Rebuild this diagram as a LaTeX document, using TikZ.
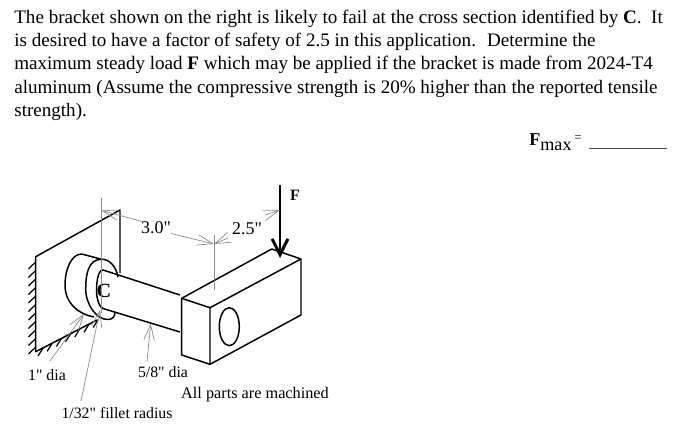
\documentclass[tikz,border=0pt]{standalone}
\usepackage{fontspec}
\setmainfont[Ligatures=TeXOff]{Liberation Serif}
\usetikzlibrary{arrows.meta}
\definecolor{DimGray}{HTML}{8C8C8C}
\tikzset{
	part/.style={draw=black, line width=0.85pt, line join=round},
	dim/.style={draw=DimGray, line width=0.4pt},
	dimtip/.style={dim, -{Straight Barb[length=9pt,width=6pt,line width=0.4pt]}},
	dimlabel/.style={font=\fontsize{9}{11}\selectfont, inner sep=0pt},
	cotelabel/.style={font=\fontsize{10.2}{12}\selectfont, inner sep=0pt},
	hatch/.style={draw=black, line width=0.7pt}
}
\begin{document}
\begin{tikzpicture}[x=0.02cm, y=-0.02cm]
	\useasboundingbox (0,0) rectangle (700,446);
	% Enonce
	\node[anchor=north west, align=left, inner sep=0pt, font=\fontsize{10.85}{13.25}\selectfont] (enonce) at (14,9.5) {The bracket shown on the right is likely to fail at the cross section identified by \textbf{C}.~ It\\is desired to have a factor of safety of 2.5 in this application.~ Determine the\\maximum steady load \textbf{F} which may be applied if the bracket is made from 2024-T4\\aluminum (Assume the compressive strength is 20\% higher than the reported tensile\\strength).};
	\node[anchor=base west, inner sep=0pt, font=\fontsize{10.3}{12}\selectfont] (fmax) at (529,146) {\textbf{F}\raisebox{-2.5pt}{max}\,\raisebox{2.5pt}{\fontsize{7}{8}\selectfont =}};
	\coordinate (trait1) at (589,148);
	\coordinate (trait2) at (667,148);
	\draw[line width=0.5pt, draw=black!70] (trait1) -- (trait2);

	% Plaque et hachures
	\draw[part] (120,273) -- (120,210) -- (35.7,256.7) -- (35.7,351.7) -- (97,320);
	\foreach \y in {262,270.5,...,352}
		\draw[hatch] (35.7,\y) -- (28.5,\y+7);
	\foreach \i in {0,...,6}
		\draw[hatch] (43+\i*9.2,348-\i*4.75) -- ++(-5,8);

	% Moyeu et arbre
	\draw[part] (101.7,259.3) -- (81.7,254) .. controls (71,254) and (65,270) .. (65,285) .. controls (65,303) and (78,314) .. (94,317);
	\draw[part] (101.7,259.3) .. controls (88,259) and (85.7,275) .. (85.7,289) .. controls (85.7,305) and (97,320) .. (108,319.5) .. controls (113,319.5) and (115,316) .. (115,312);
	\draw[part] (101.7,259.3) .. controls (109,259) and (116,266) .. (118,277);
	\draw[part] (180,295) -- (103,270) .. controls (97,270) and (96.5,287) .. (96.5,290) .. controls (96.5,300) and (100,308) .. (103,308.5) -- (180,332);

	% Bloc
	\draw[part] (181.7,298.3) -- (210,307.7) -- (301,259) -- (271.7,249) -- cycle;
	\draw[part] (181.7,298.3) -- (181.7,355) -- (210,364.3) -- (210,307.7);
	\draw[part] (210,364.3) -- (301,315) -- (301,259);
	\draw[part] (229.3,326.7) ellipse (10 and 19);
	\node[inner sep=0pt, font=\fontsize{11.5}{13}\selectfont\bfseries] (C) at (104,291) {C};

	% Force
	\coordinate (forceA) at (280,185);
	\coordinate (forceB) at (280,258);
	\draw[line width=1.5pt, -{Straight Barb[length=9pt,width=9pt,line width=1.7pt]}] (forceA) -- (forceB);
	\node[inner sep=0pt, font=\fontsize{9}{10}\selectfont\bfseries] (F) at (295,195.5) {F};

	% Cotes
	\coordinate (e1a) at (101.7,198);
	\coordinate (e1b) at (101.7,313);
	\coordinate (e2a) at (214,235);
	\coordinate (e2b) at (214,290);
	\draw[dim] (e1a) -- (e1b);
	\draw[dim] (e2a) -- (e2b);
	\node[cotelabel] (trois) at (156,228) {3.0"};
	\node[cotelabel] (deux) at (247,228.5) {2.5"};
	\draw[dimtip] (trois.155) -- (101.7,210.5);
	\draw[dimtip] (trois.-20) -- (214,244);
	\coordinate (d1) at (228,238);
	\coordinate (d2) at (265,215);
	\draw[dimtip] (d1) -- (214,244);
	\draw[dimtip] (d2) -- (280,210);

	% Renvois
	\node[dimlabel] (dia1) at (47,375) {1" dia};
	\node[dimlabel] (dia58) at (163,372) {5/8" dia};
	\node[dimlabel] (fillet) at (117,413) {1/32" fillet radius};
	\node[dimlabel, font=\fontsize{9.25}{11}\selectfont] (usine) at (255,395) {All parts are machined};
	\draw[dimtip] (50,361) -- (84,314);
	\draw[dimtip] (81,401) -- (100,310);
	\draw[dimtip] (147,362) -- (150.7,323.3);
\end{tikzpicture}
\end{document}
